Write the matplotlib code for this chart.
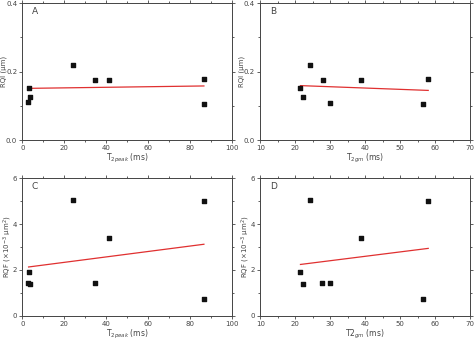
import matplotlib.pyplot as plt
from matplotlib.ticker import MultipleLocator

# T2 values (ms) for the eight samples
t2_peak = [2.5, 3.0, 3.8, 24.0, 34.5, 41.5, 86.5, 86.5]

rqi_a = [0.110, 0.151, 0.127, 0.218, 0.176, 0.174, 0.179, 0.106]
rqf_c = [1.43, 1.93, 1.40, 5.05, 1.43, 3.40, 5.00, 0.73]

t2_gm_b = [21.3, 22.3, 24.3, 27.8, 30.0, 38.8, 56.6, 58.0]
rqi_b = [0.151, 0.126, 0.218, 0.176, 0.109, 0.174, 0.106, 0.179]

t2_gm_d = [21.3, 22.2, 24.2, 27.7, 29.8, 38.7, 56.6, 58.0]
rqf_d = [1.93, 1.40, 5.05, 1.43, 1.43, 3.40, 0.73, 5.00]

# fitted lines (end points)
fit_a_x, fit_a_y = [3.0, 86.5], [0.151, 0.158]
fit_b_x, fit_b_y = [21.5, 58.0], [0.159, 0.145]
fit_c_x, fit_c_y = [3.0, 86.5], [2.13, 3.12]
fit_d_x, fit_d_y = [21.5, 58.0], [2.24, 2.94]

plt.rcParams['font.family'] = 'DejaVu Sans'

fig = plt.figure(figsize=(4.74, 3.4), dpi=100)

panels = [
    ("A", [0.047, 0.588, 0.443, 0.403], t2_peak, rqi_a, fit_a_x, fit_a_y,
     (0, 100), 20, (0, 0.4), 0.2, "T$_{2peak}$ (ms)", "RQI (μm)", -0.086),
    ("B", [0.549, 0.588, 0.443, 0.403], t2_gm_b, rqi_b, fit_b_x, fit_b_y,
     (10, 70), 10, (0, 0.4), 0.2, "T$_{2gm}$ (ms)", "RQI (μm)", -0.086),
    ("C", [0.047, 0.071, 0.443, 0.405], t2_peak, rqf_c, fit_c_x, fit_c_y,
     (0, 100), 20, (0, 6), 2, "T$_{2peak}$ (ms)", "RQF (×10$^{-3}$ μm$^{2}$)", -0.068),
    ("D", [0.549, 0.071, 0.443, 0.405], t2_gm_d, rqf_d, fit_d_x, fit_d_y,
     (10, 70), 10, (0, 6), 2, "T2$_{gm}$ (ms)", "RQF (×10$^{-3}$ μm$^{2}$)", -0.068),
]

for (label, rect, xs, ys, fx, fy, xlim, xstep, ylim, ystep,
     xlabel, ylabel, ylab_x) in panels:
    ax = fig.add_axes(rect)
    ax.scatter(xs, ys, s=5, marker='s', color='#111111', zorder=3)
    ax.plot(fx, fy, color='#e03030', lw=0.9)
    ax.set_xlim(*xlim)
    ax.set_ylim(*ylim)
    ax.xaxis.set_major_locator(MultipleLocator(xstep))
    ax.xaxis.set_minor_locator(MultipleLocator(xstep / 2))
    ax.yaxis.set_major_locator(MultipleLocator(ystep))
    ax.yaxis.set_minor_locator(MultipleLocator(ystep / 2))
    ax.tick_params(which='both', direction='out', top=True, right=True,
                   labelsize=5, pad=1.2, width=0.6, colors='#444444')
    ax.tick_params(which='major', length=2.5)
    ax.tick_params(which='minor', length=1.5)
    for sp in ax.spines.values():
        sp.set_linewidth(0.7)
        sp.set_color('#444444')
    ax.set_xlabel(xlabel, fontsize=5.5, color='#444444', va='center')
    ax.xaxis.set_label_coords(0.5, -0.135)
    ax.set_ylabel(ylabel, fontsize=5, color='#444444', va='center')
    ax.yaxis.set_label_coords(ylab_x, 0.5)
    ax.text(0.045, 0.94, label, transform=ax.transAxes, fontsize=6.5,
            va='center', color='#444444')

fig.savefig("out.png", dpi=100)
